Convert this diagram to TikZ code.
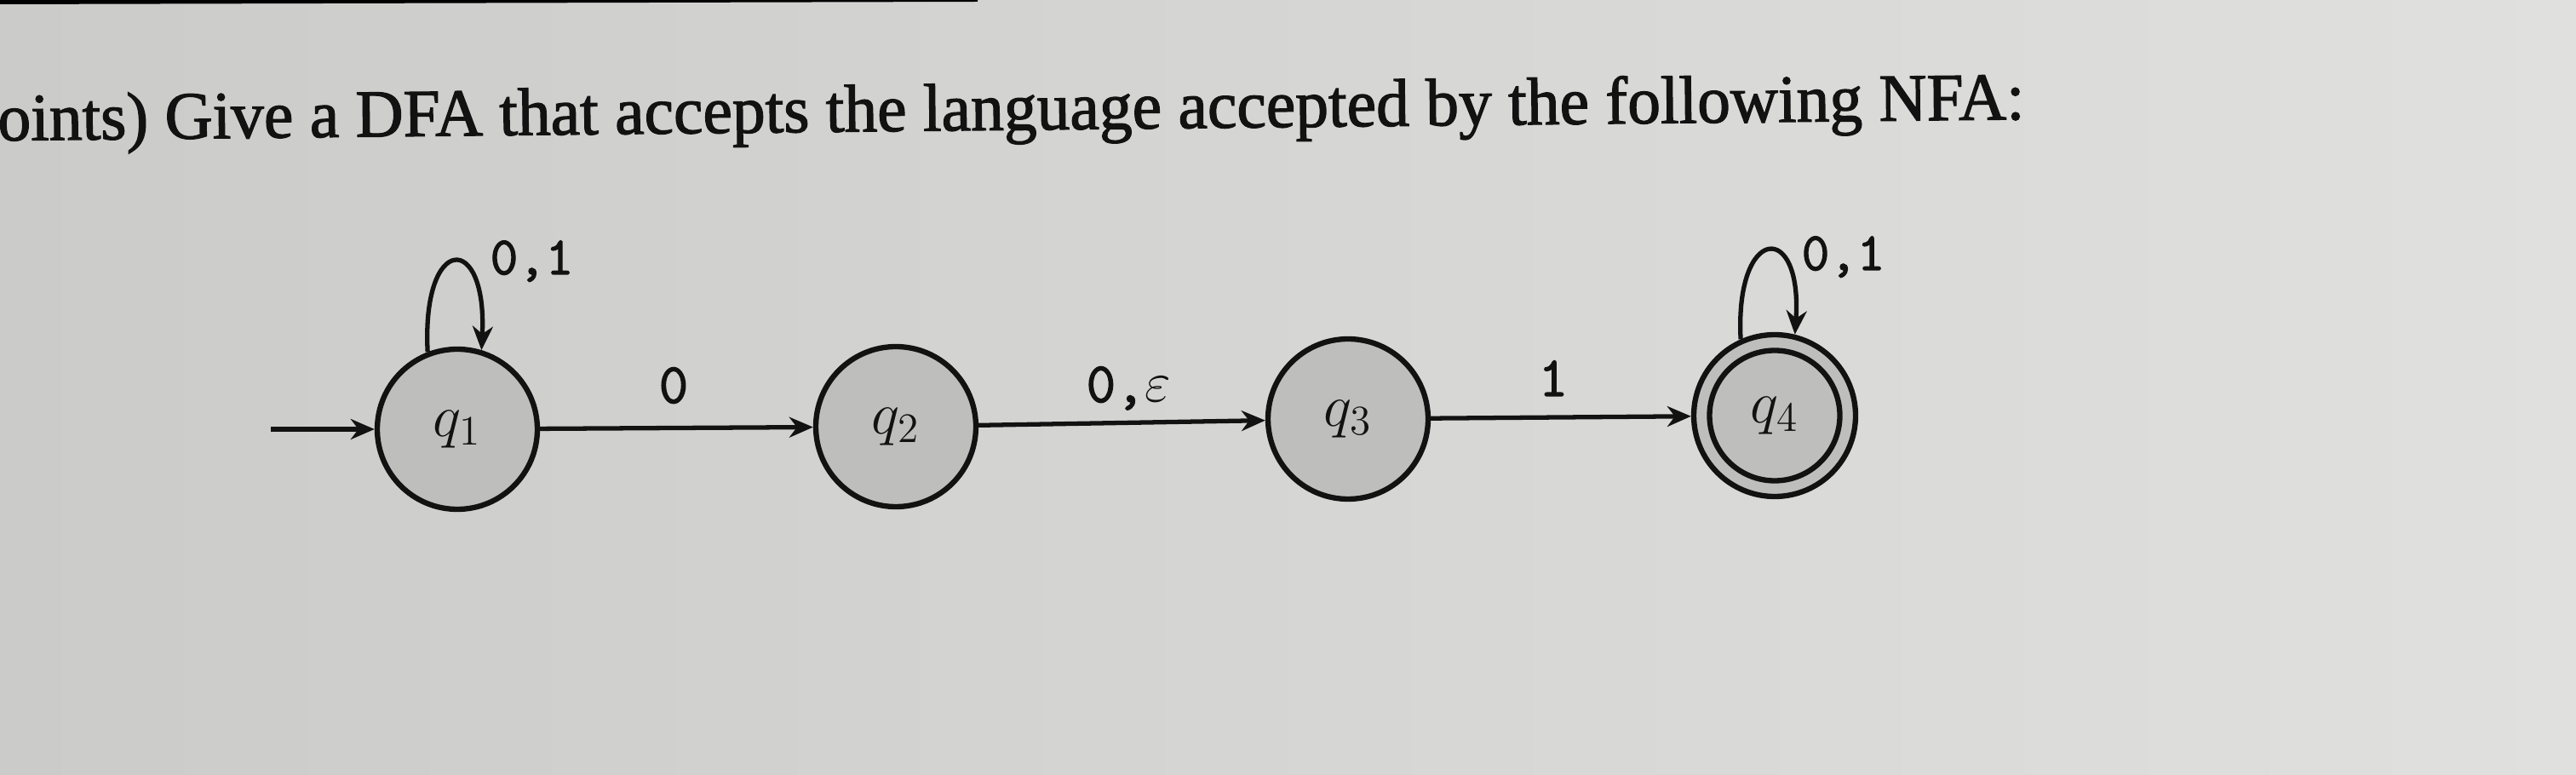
\RequirePackage{fix-cm}
\documentclass[tikz,border=0pt]{standalone}
\usepackage{fontspec}
\setmainfont{Liberation Serif}
\newfontfamily\titlefont{Liberation Serif}[FakeBold=1.6]
\newfontfamily\labelfont{Latin Modern Mono}[FakeBold=2]
\usetikzlibrary{arrows.meta}
\definecolor{paperL}{RGB}{203,204,202}
\definecolor{paperR}{RGB}{224,225,223}
\definecolor{stfill}{RGB}{190,190,188}
\definecolor{ink}{RGB}{18,18,18}
\tikzset{
  state/.style={circle, draw=ink, line width=1.8pt, fill=stfill, minimum size=1.88cm, inner sep=0pt, text=ink, font=\fontsize{20}{22}\selectfont},
  trans/.style={draw=ink, line width=1.5pt, -{Stealth[length=2.8mm,width=2.4mm,inset=0.9mm]}},
  lbl/.style={inner sep=0pt, text=ink, font=\labelfont\fontsize{19}{21}\selectfont},
  looplbl/.style={lbl, font=\labelfont\fontsize{18}{20}\selectfont},
}
\begin{document}
\begin{tikzpicture}
\useasboundingbox (0,0) rectangle (30.25,9.09);
\clip (0,0) rectangle (30.25,9.09);
\shade[left color=paperL, right color=paperR] (0,0) rectangle (30.25,9.09);
\fill[black] (0,9.09) -- (11.48,9.09) -- (11.48,9.07) -- (0,9.04) -- cycle;
\node[anchor=base west, inner sep=0pt, rotate=0.6, text=ink, font=\titlefont\fontsize{22.5}{26}\selectfont] (title) at (-0.03,7.44)
  {\resizebox{23.8cm}{\height}{\llap{p}oints) Give a DFA that accepts the language accepted by the following NFA:}};

\node[state] (q1) at (5.37,4.05) {$q_1$};
\node[state] (q2) at (10.52,4.08) {$q_2$};
\node[state] (q3) at (15.83,4.17) {$q_3$};
\node[state, minimum size=1.9cm] (q4) at (20.84,4.21) {$q_4$};
\draw[ink, line width=1.8pt] (q4.center) circle[radius=0.765];

\coordinate (init) at (3.18,4.05);
\draw[trans] (init) -- (q1);
\draw[trans] (q1) -- (q2);
\draw[trans] (q2) -- (q3);
\draw[trans] (q3) -- (q4);
\draw[trans] (q1.111) .. controls +(93:1.4) and +(87:1.4) .. (q1.73);
\draw[trans] (q4.114) .. controls +(93:1.35) and +(86:1.35) .. (q4.76);

\node[looplbl, anchor=base west] (l11) at (5.75,5.87) {0,1};
\node[looplbl, anchor=base west] (l44) at (21.15,5.92) {0,1};
\node[lbl, anchor=base] (l12) at (7.91,4.36) {0};
\node[lbl, anchor=base west] (l23) at (12.75,4.37) {0,$\varepsilon$};
\node[lbl, anchor=base] (l34) at (18.24,4.44) {1};
\end{tikzpicture}
\end{document}
